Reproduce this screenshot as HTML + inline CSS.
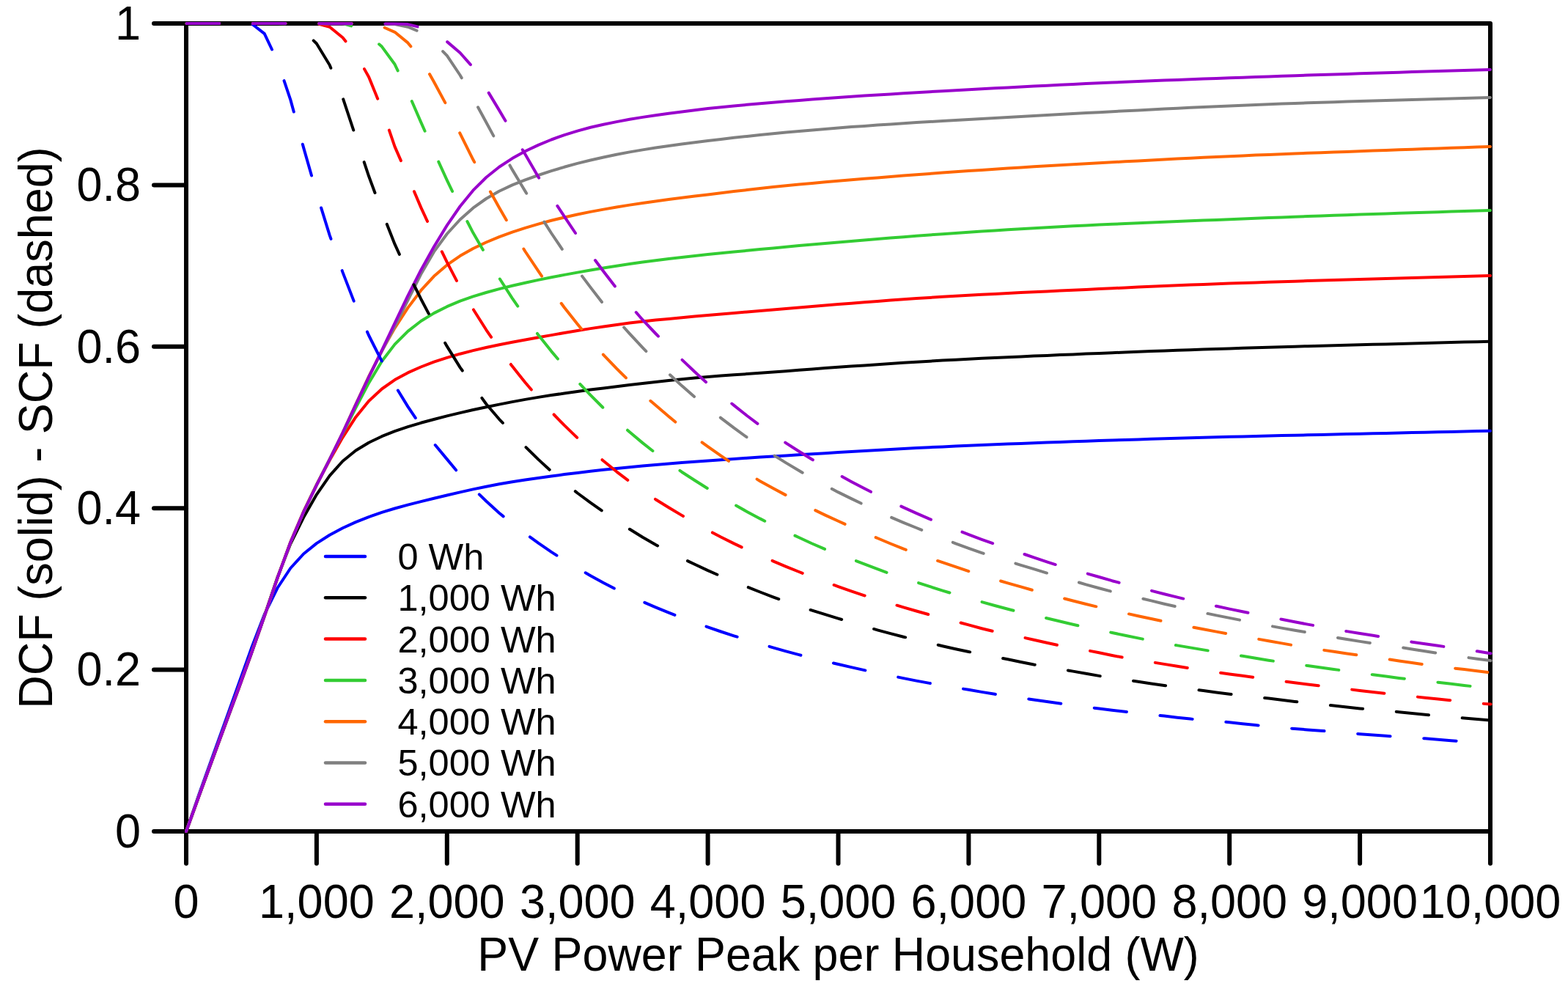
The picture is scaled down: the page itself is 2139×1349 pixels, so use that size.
<!DOCTYPE html><html><head><meta charset="utf-8"><style>html,body{margin:0;padding:0;background:#fff;}svg{display:block;}</style></head><body>
<svg width="2139" height="1349" viewBox="0 0 2139 1349">
<rect width="2139" height="1349" fill="#fff"/>
<g stroke="#000" stroke-width="6" fill="none" stroke-linecap="round" stroke-linejoin="round">
<path d="M210 32 L2033 32 L2033 1177.7"/>
<path d="M254 32 L254 1177.7"/>
<path d="M210 1134 L2033 1134"/>
<path d="M210 913.6 L254 913.6"/>
<path d="M210 693.2 L254 693.2"/>
<path d="M210 472.8 L254 472.8"/>
<path d="M210 252.4 L254 252.4"/>
<path d="M431.9 1134 L431.9 1177.7"/>
<path d="M609.8 1134 L609.8 1177.7"/>
<path d="M787.7 1134 L787.7 1177.7"/>
<path d="M965.6 1134 L965.6 1177.7"/>
<path d="M1143.5 1134 L1143.5 1177.7"/>
<path d="M1321.4 1134 L1321.4 1177.7"/>
<path d="M1499.3 1134 L1499.3 1177.7"/>
<path d="M1677.2 1134 L1677.2 1177.7"/>
<path d="M1855.1 1134 L1855.1 1177.7"/>
</g>
<g fill="none" stroke-width="4" stroke-linecap="round" stroke-linejoin="round">
<path stroke="#0000ff" d="M254.0 1134.0 L271.8 1082.4 L289.6 1032.9 L307.4 983.7 L325.2 933.8 L342.9 884.3 L360.7 838.2 L378.5 802.0 L396.3 775.0 L414.1 755.5 L431.9 741.1 L449.7 729.7 L467.5 720.2 L485.3 712.1 L503.1 705.1 L520.9 698.9 L538.6 693.5 L556.4 688.6 L574.2 684.1 L592.0 679.7 L609.8 675.5 L627.6 671.4 L645.4 667.4 L663.2 663.7 L681.0 660.3 L698.8 657.3 L716.5 654.5 L734.3 651.9 L752.1 649.5 L769.9 647.1 L787.7 644.9 L805.5 642.8 L823.3 640.8 L841.1 639.0 L858.9 637.2 L876.6 635.6 L894.4 634.0 L912.2 632.5 L930.0 631.1 L947.8 629.7 L965.6 628.4 L983.4 627.2 L1001.2 626.0 L1019.0 624.8 L1036.8 623.6 L1054.6 622.5 L1072.3 621.4 L1090.1 620.3 L1107.9 619.2 L1125.7 618.2 L1143.5 617.1 L1161.3 616.0 L1179.1 615.0 L1196.9 614.0 L1214.7 613.0 L1232.5 612.0 L1250.2 611.1 L1268.0 610.2 L1285.8 609.4 L1303.6 608.6 L1321.4 607.8 L1339.2 607.0 L1357.0 606.3 L1374.8 605.6 L1392.6 604.9 L1410.3 604.3 L1428.1 603.6 L1445.9 603.0 L1463.7 602.3 L1481.5 601.7 L1499.3 601.1 L1517.1 600.5 L1534.9 599.9 L1552.7 599.4 L1570.5 598.8 L1588.2 598.3 L1606.0 597.8 L1623.8 597.3 L1641.6 596.8 L1659.4 596.3 L1677.2 595.8 L1695.0 595.4 L1712.8 594.9 L1730.6 594.5 L1748.4 594.1 L1766.2 593.7 L1783.9 593.3 L1801.7 592.9 L1819.5 592.5 L1837.3 592.1 L1855.1 591.7 L1872.9 591.3 L1890.7 590.9 L1908.5 590.5 L1926.3 590.1 L1944.0 589.7 L1961.8 589.3 L1979.6 588.9 L1997.4 588.5 L2015.2 588.1 L2033.0 587.7"/>
<path stroke="#000000" d="M254.0 1134.0 L271.8 1084.8 L289.6 1036.3 L307.4 988.0 L325.2 940.1 L342.9 891.4 L360.7 840.2 L378.5 787.4 L396.3 741.8 L414.1 705.8 L431.9 674.6 L449.7 648.8 L467.5 629.0 L485.3 614.5 L503.1 603.7 L520.9 595.2 L538.6 588.2 L556.4 582.2 L574.2 576.8 L592.0 572.0 L609.8 567.4 L627.6 563.1 L645.4 559.0 L663.2 555.2 L681.0 551.6 L698.8 548.1 L716.5 544.9 L734.3 541.9 L752.1 539.1 L769.9 536.5 L787.7 534.0 L805.5 531.6 L823.3 529.4 L841.1 527.2 L858.9 525.1 L876.6 523.0 L894.4 521.0 L912.2 519.0 L930.0 517.2 L947.8 515.5 L965.6 514.0 L983.4 512.6 L1001.2 511.3 L1019.0 510.1 L1036.8 508.8 L1054.6 507.5 L1072.3 506.2 L1090.1 504.8 L1107.9 503.5 L1125.7 502.1 L1143.5 500.8 L1161.3 499.6 L1179.1 498.4 L1196.9 497.2 L1214.7 496.0 L1232.5 494.8 L1250.2 493.7 L1268.0 492.7 L1285.8 491.6 L1303.6 490.7 L1321.4 489.7 L1339.2 488.8 L1357.0 488.0 L1374.8 487.2 L1392.6 486.4 L1410.3 485.6 L1428.1 484.9 L1445.9 484.1 L1463.7 483.4 L1481.5 482.6 L1499.3 481.9 L1517.1 481.2 L1534.9 480.5 L1552.7 479.8 L1570.5 479.1 L1588.2 478.5 L1606.0 477.8 L1623.8 477.2 L1641.6 476.6 L1659.4 476.0 L1677.2 475.4 L1695.0 474.8 L1712.8 474.3 L1730.6 473.8 L1748.4 473.2 L1766.2 472.7 L1783.9 472.2 L1801.7 471.7 L1819.5 471.2 L1837.3 470.8 L1855.1 470.3 L1872.9 469.8 L1890.7 469.4 L1908.5 468.9 L1926.3 468.4 L1944.0 468.0 L1961.8 467.5 L1979.6 467.1 L1997.4 466.6 L2015.2 466.2 L2033.0 465.7"/>
<path stroke="#ff0000" d="M254.0 1134.0 L271.8 1084.8 L289.6 1036.3 L307.4 988.0 L325.2 940.0 L342.9 891.4 L360.7 840.7 L378.5 788.3 L396.3 739.4 L414.1 697.7 L431.9 661.0 L449.7 627.8 L467.5 596.6 L485.3 568.9 L503.1 547.0 L520.9 530.5 L538.6 518.1 L556.4 508.4 L574.2 500.5 L592.0 493.7 L609.8 487.9 L627.6 482.7 L645.4 478.1 L663.2 474.0 L681.0 470.2 L698.8 466.7 L716.5 463.5 L734.3 460.3 L752.1 457.1 L769.9 454.0 L787.7 451.0 L805.5 448.1 L823.3 445.4 L841.1 442.9 L858.9 440.6 L876.6 438.6 L894.4 436.6 L912.2 434.9 L930.0 433.2 L947.8 431.6 L965.6 430.0 L983.4 428.4 L1001.2 426.9 L1019.0 425.4 L1036.8 424.0 L1054.6 422.5 L1072.3 421.1 L1090.1 419.6 L1107.9 418.1 L1125.7 416.6 L1143.5 415.1 L1161.3 413.7 L1179.1 412.3 L1196.9 410.9 L1214.7 409.6 L1232.5 408.3 L1250.2 407.1 L1268.0 405.9 L1285.8 404.8 L1303.6 403.8 L1321.4 402.8 L1339.2 401.8 L1357.0 400.9 L1374.8 400.0 L1392.6 399.1 L1410.3 398.3 L1428.1 397.4 L1445.9 396.6 L1463.7 395.7 L1481.5 394.9 L1499.3 394.0 L1517.1 393.2 L1534.9 392.4 L1552.7 391.6 L1570.5 390.8 L1588.2 390.0 L1606.0 389.3 L1623.8 388.6 L1641.6 387.9 L1659.4 387.2 L1677.2 386.6 L1695.0 385.9 L1712.8 385.4 L1730.6 384.8 L1748.4 384.2 L1766.2 383.7 L1783.9 383.1 L1801.7 382.6 L1819.5 382.1 L1837.3 381.6 L1855.1 381.0 L1872.9 380.5 L1890.7 380.0 L1908.5 379.5 L1926.3 379.0 L1944.0 378.5 L1961.8 378.0 L1979.6 377.4 L1997.4 376.9 L2015.2 376.4 L2033.0 375.9"/>
<path stroke="#33cc33" d="M254.0 1134.0 L271.8 1084.8 L289.6 1036.3 L307.4 988.0 L325.2 940.0 L342.9 891.4 L360.7 840.6 L378.5 788.4 L396.3 739.7 L414.1 698.2 L431.9 661.2 L449.7 626.5 L467.5 591.6 L485.3 556.4 L503.1 522.4 L520.9 492.8 L538.6 469.6 L556.4 451.8 L574.2 438.0 L592.0 427.1 L609.8 418.2 L627.6 410.7 L645.4 404.4 L663.2 399.0 L681.0 394.1 L698.8 389.7 L716.5 385.7 L734.3 381.9 L752.1 378.3 L769.9 374.9 L787.7 371.6 L805.5 368.5 L823.3 365.5 L841.1 362.7 L858.9 360.1 L876.6 357.6 L894.4 355.3 L912.2 353.1 L930.0 351.0 L947.8 349.0 L965.6 347.1 L983.4 345.3 L1001.2 343.5 L1019.0 341.8 L1036.8 340.1 L1054.6 338.4 L1072.3 336.7 L1090.1 335.1 L1107.9 333.5 L1125.7 332.0 L1143.5 330.4 L1161.3 328.9 L1179.1 327.4 L1196.9 326.0 L1214.7 324.6 L1232.5 323.2 L1250.2 321.8 L1268.0 320.5 L1285.8 319.2 L1303.6 317.9 L1321.4 316.7 L1339.2 315.5 L1357.0 314.4 L1374.8 313.3 L1392.6 312.2 L1410.3 311.2 L1428.1 310.2 L1445.9 309.2 L1463.7 308.3 L1481.5 307.4 L1499.3 306.6 L1517.1 305.8 L1534.9 305.0 L1552.7 304.2 L1570.5 303.5 L1588.2 302.8 L1606.0 302.0 L1623.8 301.3 L1641.6 300.6 L1659.4 299.9 L1677.2 299.2 L1695.0 298.5 L1712.8 297.8 L1730.6 297.1 L1748.4 296.5 L1766.2 295.8 L1783.9 295.1 L1801.7 294.5 L1819.5 293.8 L1837.3 293.2 L1855.1 292.6 L1872.9 292.0 L1890.7 291.4 L1908.5 290.8 L1926.3 290.3 L1944.0 289.7 L1961.8 289.2 L1979.6 288.6 L1997.4 288.1 L2015.2 287.5 L2033.0 287.0"/>
<path stroke="#ff6600" d="M254.0 1134.0 L271.8 1084.8 L289.6 1036.3 L307.4 988.0 L325.2 940.0 L342.9 891.4 L360.7 840.6 L378.5 788.3 L396.3 739.8 L414.1 698.5 L431.9 661.7 L449.7 626.7 L467.5 590.3 L485.3 551.5 L503.1 513.5 L520.9 478.5 L538.6 447.3 L556.4 419.9 L574.2 396.2 L592.0 376.8 L609.8 361.4 L627.6 349.1 L645.4 339.0 L663.2 330.5 L681.0 323.1 L698.8 316.6 L716.5 310.8 L734.3 305.6 L752.1 300.8 L769.9 296.5 L787.7 292.5 L805.5 288.9 L823.3 285.6 L841.1 282.5 L858.9 279.6 L876.6 276.9 L894.4 274.4 L912.2 272.0 L930.0 269.7 L947.8 267.5 L965.6 265.4 L983.4 263.2 L1001.2 261.1 L1019.0 259.1 L1036.8 257.1 L1054.6 255.1 L1072.3 253.3 L1090.1 251.6 L1107.9 249.9 L1125.7 248.3 L1143.5 246.8 L1161.3 245.3 L1179.1 243.8 L1196.9 242.4 L1214.7 241.0 L1232.5 239.6 L1250.2 238.2 L1268.0 236.9 L1285.8 235.6 L1303.6 234.3 L1321.4 233.1 L1339.2 231.9 L1357.0 230.7 L1374.8 229.5 L1392.6 228.4 L1410.3 227.3 L1428.1 226.3 L1445.9 225.2 L1463.7 224.2 L1481.5 223.2 L1499.3 222.2 L1517.1 221.3 L1534.9 220.3 L1552.7 219.4 L1570.5 218.4 L1588.2 217.5 L1606.0 216.6 L1623.8 215.7 L1641.6 214.8 L1659.4 214.0 L1677.2 213.2 L1695.0 212.4 L1712.8 211.6 L1730.6 210.9 L1748.4 210.2 L1766.2 209.5 L1783.9 208.8 L1801.7 208.2 L1819.5 207.5 L1837.3 206.9 L1855.1 206.2 L1872.9 205.6 L1890.7 205.0 L1908.5 204.3 L1926.3 203.7 L1944.0 203.1 L1961.8 202.4 L1979.6 201.8 L1997.4 201.2 L2015.2 200.5 L2033.0 199.9"/>
<path stroke="#808080" d="M254.0 1134.0 L271.8 1084.8 L289.6 1036.3 L307.4 988.0 L325.2 940.0 L342.9 891.4 L360.7 840.6 L378.5 788.3 L396.3 739.8 L414.1 698.5 L431.9 661.6 L449.7 626.6 L467.5 590.3 L485.3 551.8 L503.1 514.2 L520.9 479.0 L538.6 445.0 L556.4 409.6 L574.2 374.1 L592.0 343.4 L609.8 319.0 L627.6 299.5 L645.4 283.7 L663.2 271.0 L681.0 260.8 L698.8 252.4 L716.5 245.3 L734.3 239.0 L752.1 233.2 L769.9 227.8 L787.7 222.9 L805.5 218.5 L823.3 214.5 L841.1 210.8 L858.9 207.4 L876.6 204.4 L894.4 201.5 L912.2 198.9 L930.0 196.4 L947.8 194.2 L965.6 192.0 L983.4 189.9 L1001.2 187.8 L1019.0 185.9 L1036.8 184.0 L1054.6 182.2 L1072.3 180.5 L1090.1 178.9 L1107.9 177.4 L1125.7 175.9 L1143.5 174.5 L1161.3 173.1 L1179.1 171.9 L1196.9 170.6 L1214.7 169.4 L1232.5 168.3 L1250.2 167.1 L1268.0 166.1 L1285.8 165.0 L1303.6 164.0 L1321.4 162.9 L1339.2 161.9 L1357.0 160.9 L1374.8 160.0 L1392.6 159.0 L1410.3 158.0 L1428.1 157.0 L1445.9 156.0 L1463.7 155.1 L1481.5 154.1 L1499.3 153.2 L1517.1 152.2 L1534.9 151.3 L1552.7 150.4 L1570.5 149.5 L1588.2 148.6 L1606.0 147.7 L1623.8 146.8 L1641.6 146.0 L1659.4 145.2 L1677.2 144.4 L1695.0 143.7 L1712.8 143.0 L1730.6 142.3 L1748.4 141.6 L1766.2 141.0 L1783.9 140.3 L1801.7 139.7 L1819.5 139.2 L1837.3 138.6 L1855.1 138.0 L1872.9 137.5 L1890.7 136.9 L1908.5 136.4 L1926.3 135.9 L1944.0 135.4 L1961.8 134.9 L1979.6 134.4 L1997.4 133.9 L2015.2 133.4 L2033.0 132.9"/>
<path stroke="#9900cc" d="M254.0 1134.0 L271.8 1084.8 L289.6 1036.3 L307.4 988.0 L325.2 940.0 L342.9 891.4 L360.7 840.6 L378.5 788.3 L396.3 739.8 L414.1 698.4 L431.9 661.6 L449.7 626.6 L467.5 590.4 L485.3 552.1 L503.1 514.4 L520.9 477.8 L538.6 440.7 L556.4 403.4 L574.2 368.4 L592.0 336.6 L609.8 307.4 L627.6 281.5 L645.4 259.7 L663.2 242.0 L681.0 227.7 L698.8 216.1 L716.5 206.3 L734.3 197.9 L752.1 190.5 L769.9 184.1 L787.7 178.6 L805.5 173.8 L823.3 169.7 L841.1 166.1 L858.9 162.8 L876.6 159.9 L894.4 157.2 L912.2 154.7 L930.0 152.4 L947.8 150.2 L965.6 148.1 L983.4 146.2 L1001.2 144.5 L1019.0 142.8 L1036.8 141.2 L1054.6 139.7 L1072.3 138.3 L1090.1 136.9 L1107.9 135.5 L1125.7 134.2 L1143.5 133.0 L1161.3 131.8 L1179.1 130.6 L1196.9 129.5 L1214.7 128.4 L1232.5 127.3 L1250.2 126.2 L1268.0 125.2 L1285.8 124.2 L1303.6 123.2 L1321.4 122.2 L1339.2 121.2 L1357.0 120.3 L1374.8 119.4 L1392.6 118.4 L1410.3 117.6 L1428.1 116.7 L1445.9 115.8 L1463.7 115.0 L1481.5 114.1 L1499.3 113.3 L1517.1 112.5 L1534.9 111.8 L1552.7 111.0 L1570.5 110.3 L1588.2 109.6 L1606.0 108.9 L1623.8 108.3 L1641.6 107.6 L1659.4 107.0 L1677.2 106.3 L1695.0 105.7 L1712.8 105.1 L1730.6 104.4 L1748.4 103.8 L1766.2 103.2 L1783.9 102.6 L1801.7 102.0 L1819.5 101.5 L1837.3 100.9 L1855.1 100.3 L1872.9 99.8 L1890.7 99.2 L1908.5 98.7 L1926.3 98.1 L1944.0 97.6 L1961.8 97.1 L1979.6 96.6 L1997.4 96.0 L2015.2 95.5 L2033.0 95.0"/>
</g>
<g fill="none" stroke-width="4" stroke-linecap="round" stroke-linejoin="round" stroke-dasharray="44.5 45.8" stroke-dashoffset="-0.6">
<path stroke="#0000ff" d="M254.0 32.0 L271.8 32.0 L289.6 32.0 L307.4 32.0 L325.2 32.0 L342.9 32.0 L360.7 45.9 L378.5 83.3 L396.3 136.1 L414.1 201.4 L431.9 263.6 L449.7 320.8 L467.5 371.4 L485.3 417.4 L503.1 457.5 L520.9 492.8 L538.6 525.6 L556.4 554.6 L574.2 580.9 L592.0 605.0 L609.8 626.4 L627.6 647.9 L645.4 666.2 L663.2 683.5 L681.0 699.7 L698.8 714.3 L716.5 727.7 L734.3 740.6 L752.1 752.9 L769.9 764.3 L787.7 775.0 L805.5 785.2 L823.3 795.0 L841.1 804.2 L858.9 812.7 L876.6 820.6 L894.4 828.3 L912.2 835.6 L930.0 842.5 L947.8 849.1 L965.6 855.4 L983.4 861.5 L1001.2 867.3 L1019.0 872.9 L1036.8 878.2 L1054.6 883.3 L1072.3 888.3 L1090.1 893.1 L1107.9 897.6 L1125.7 901.9 L1143.5 906.0 L1161.3 910.1 L1179.1 914.1 L1196.9 917.9 L1214.7 921.5 L1232.5 925.1 L1250.2 928.6 L1268.0 931.9 L1285.8 934.9 L1303.6 937.9 L1321.4 940.8 L1339.2 943.9 L1357.0 946.8 L1374.8 949.5 L1392.6 951.9 L1410.3 954.4 L1428.1 957.0 L1445.9 959.6 L1463.7 962.0 L1481.5 964.3 L1499.3 966.5 L1517.1 968.7 L1534.9 970.8 L1552.7 972.8 L1570.5 974.7 L1588.2 976.6 L1606.0 978.7 L1623.8 980.6 L1641.6 982.3 L1659.4 983.7 L1677.2 985.3 L1695.0 987.2 L1712.8 989.1 L1730.6 990.9 L1748.4 992.5 L1766.2 994.0 L1783.9 995.4 L1801.7 996.7 L1819.5 998.2 L1837.3 999.7 L1855.1 1001.2 L1872.9 1002.6 L1890.7 1003.8 L1908.5 1005.0 L1926.3 1006.1 L1944.0 1007.3 L1961.8 1008.7 L1979.6 1010.2 L1997.4 1011.5 L2015.2 1012.8 L2029.0 1013.7"/>
<path stroke="#000000" d="M254.0 32.0 L271.8 32.0 L289.6 32.0 L307.4 32.0 L325.2 32.0 L342.9 32.0 L360.7 32.0 L378.5 32.0 L396.3 33.4 L414.1 41.9 L431.9 59.5 L449.7 88.7 L467.5 133.1 L485.3 186.7 L503.1 240.3 L520.9 288.4 L538.6 333.2 L556.4 372.0 L574.2 407.7 L592.0 441.4 L609.8 472.4 L627.6 501.1 L645.4 526.0 L663.2 551.0 L681.0 571.8 L698.8 590.4 L716.5 609.1 L734.3 626.6 L752.1 643.0 L769.9 658.3 L787.7 672.5 L805.5 685.6 L823.3 698.1 L841.1 710.3 L858.9 721.8 L876.6 732.7 L894.4 743.0 L912.2 752.4 L930.0 761.3 L947.8 769.8 L965.6 778.1 L983.4 785.9 L1001.2 793.3 L1019.0 800.5 L1036.8 807.5 L1054.6 814.3 L1072.3 820.7 L1090.1 826.9 L1107.9 832.7 L1125.7 838.2 L1143.5 843.6 L1161.3 849.0 L1179.1 854.2 L1196.9 859.3 L1214.7 864.1 L1232.5 868.7 L1250.2 873.0 L1268.0 877.1 L1285.8 881.2 L1303.6 885.2 L1321.4 889.0 L1339.2 892.5 L1357.0 895.8 L1374.8 899.3 L1392.6 903.0 L1410.3 906.5 L1428.1 909.6 L1445.9 912.5 L1463.7 915.6 L1481.5 918.8 L1499.3 921.9 L1517.1 924.6 L1534.9 927.2 L1552.7 929.8 L1570.5 932.5 L1588.2 935.0 L1606.0 937.4 L1623.8 939.7 L1641.6 942.0 L1659.4 944.4 L1677.2 946.7 L1695.0 948.7 L1712.8 950.6 L1730.6 952.6 L1748.4 954.7 L1766.2 956.9 L1783.9 958.8 L1801.7 960.6 L1819.5 962.5 L1837.3 964.5 L1855.1 966.4 L1872.9 968.1 L1890.7 969.6 L1908.5 971.2 L1926.3 973.0 L1944.0 974.8 L1961.8 976.5 L1979.6 978.1 L1997.4 979.6 L2015.2 981.1 L2033.0 982.5"/>
<path stroke="#ff0000" d="M254.0 32.0 L271.8 32.0 L289.6 32.0 L307.4 32.0 L325.2 32.0 L342.9 32.0 L360.7 32.0 L378.5 32.0 L396.3 32.0 L414.1 32.0 L431.9 32.0 L449.7 36.7 L467.5 51.3 L485.3 73.4 L503.1 104.9 L520.9 148.6 L538.6 200.1 L556.4 240.9 L574.2 282.9 L592.0 321.2 L609.8 357.6 L627.6 391.9 L645.4 421.6 L663.2 449.8 L681.0 475.7 L698.8 499.6 L716.5 521.8 L734.3 542.6 L752.1 561.9 L769.9 580.1 L787.7 597.3 L805.5 613.5 L823.3 628.8 L841.1 643.3 L858.9 656.8 L876.6 669.4 L894.4 681.2 L912.2 692.3 L930.0 702.9 L947.8 713.2 L965.6 723.1 L983.4 732.5 L1001.2 741.4 L1019.0 749.8 L1036.8 757.7 L1054.6 765.3 L1072.3 772.8 L1090.1 780.0 L1107.9 787.0 L1125.7 793.6 L1143.5 800.1 L1161.3 806.3 L1179.1 812.3 L1196.9 817.8 L1214.7 823.1 L1232.5 828.3 L1250.2 833.5 L1268.0 838.5 L1285.8 843.2 L1303.6 847.7 L1321.4 852.4 L1339.2 857.2 L1357.0 861.6 L1374.8 865.2 L1392.6 868.8 L1410.3 872.7 L1428.1 876.8 L1445.9 880.6 L1463.7 883.7 L1481.5 886.8 L1499.3 890.2 L1517.1 894.0 L1534.9 897.4 L1552.7 900.3 L1570.5 903.0 L1588.2 905.9 L1606.0 908.8 L1623.8 911.6 L1641.6 914.3 L1659.4 916.9 L1677.2 919.4 L1695.0 921.8 L1712.8 924.2 L1730.6 926.6 L1748.4 928.9 L1766.2 931.2 L1783.9 933.5 L1801.7 935.7 L1819.5 937.8 L1837.3 939.8 L1855.1 941.9 L1872.9 944.0 L1890.7 946.1 L1908.5 948.0 L1926.3 949.8 L1944.0 951.7 L1961.8 953.5 L1979.6 955.3 L1997.4 957.4 L2015.2 959.3 L2033.0 960.5 L2033.6 960.5"/>
<path stroke="#33cc33" d="M254.0 32.0 L271.8 32.0 L289.6 32.0 L307.4 32.0 L325.2 32.0 L342.9 32.0 L360.7 32.0 L378.5 32.0 L396.3 32.0 L414.1 32.0 L431.9 32.0 L449.7 32.0 L467.5 32.0 L485.3 37.2 L503.1 48.1 L520.9 63.6 L538.6 87.8 L556.4 125.6 L574.2 166.6 L592.0 206.9 L609.8 245.8 L627.6 283.0 L645.4 317.6 L663.2 348.2 L681.0 379.2 L698.8 406.8 L716.5 432.6 L734.3 456.8 L752.1 479.1 L769.9 500.2 L787.7 520.1 L805.5 538.9 L823.3 556.7 L841.1 573.5 L858.9 589.3 L876.6 604.1 L894.4 618.1 L912.2 631.3 L930.0 643.7 L947.8 655.3 L965.6 666.5 L983.4 677.5 L1001.2 688.0 L1019.0 697.9 L1036.8 707.4 L1054.6 716.4 L1072.3 725.0 L1090.1 733.3 L1107.9 741.5 L1125.7 749.2 L1143.5 756.0 L1161.3 762.5 L1179.1 769.3 L1196.9 776.2 L1214.7 782.7 L1232.5 788.5 L1250.2 794.1 L1268.0 799.9 L1285.8 805.6 L1303.6 811.0 L1321.4 816.1 L1339.2 821.0 L1357.0 826.0 L1374.8 830.8 L1392.6 835.2 L1410.3 839.2 L1428.1 843.3 L1445.9 847.5 L1463.7 851.8 L1481.5 855.7 L1499.3 859.4 L1517.1 863.0 L1534.9 866.8 L1552.7 870.4 L1570.5 873.9 L1588.2 877.2 L1606.0 880.4 L1623.8 883.4 L1641.6 886.4 L1659.4 889.2 L1677.2 892.0 L1695.0 894.8 L1712.8 897.8 L1730.6 900.7 L1748.4 903.3 L1766.2 905.7 L1783.9 908.1 L1801.7 910.5 L1819.5 912.9 L1837.3 915.4 L1855.1 917.9 L1872.9 920.3 L1890.7 922.6 L1908.5 924.9 L1926.3 927.0 L1944.0 928.8 L1961.8 930.7 L1979.6 932.8 L1997.4 934.9 L2015.2 937.0 L2033.0 939.0"/>
<path stroke="#ff6600" d="M254.0 32.0 L271.8 32.0 L289.6 32.0 L307.4 32.0 L325.2 32.0 L342.9 32.0 L360.7 32.0 L378.5 32.0 L396.3 32.0 L414.1 32.0 L431.9 32.0 L449.7 32.0 L467.5 32.0 L485.3 32.0 L503.1 32.0 L520.9 36.1 L538.6 43.8 L556.4 58.4 L574.2 80.5 L592.0 111.7 L609.8 144.8 L627.6 182.2 L645.4 217.8 L663.2 251.2 L681.0 283.3 L698.8 314.0 L716.5 343.0 L734.3 369.7 L752.1 395.3 L769.9 419.5 L787.7 441.9 L805.5 463.5 L823.3 484.1 L841.1 502.7 L858.9 520.3 L876.6 537.6 L894.4 552.8 L912.2 568.0 L930.0 582.8 L947.8 596.3 L965.6 609.2 L983.4 621.7 L1001.2 633.7 L1019.0 645.4 L1036.8 656.2 L1054.6 666.1 L1072.3 675.5 L1090.1 684.9 L1107.9 694.0 L1125.7 702.6 L1143.5 710.8 L1161.3 718.8 L1179.1 726.5 L1196.9 734.0 L1214.7 741.5 L1232.5 748.7 L1250.2 755.2 L1268.0 761.2 L1285.8 767.2 L1303.6 773.2 L1321.4 779.1 L1339.2 784.7 L1357.0 790.1 L1374.8 795.4 L1392.6 800.4 L1410.3 805.4 L1428.1 810.1 L1445.9 814.8 L1463.7 819.5 L1481.5 824.0 L1499.3 828.3 L1517.1 832.4 L1534.9 836.3 L1552.7 840.2 L1570.5 844.0 L1588.2 847.8 L1606.0 851.4 L1623.8 854.9 L1641.6 858.3 L1659.4 861.6 L1677.2 864.9 L1695.0 868.0 L1712.8 871.1 L1730.6 874.2 L1748.4 877.4 L1766.2 880.5 L1783.9 883.4 L1801.7 886.2 L1819.5 888.8 L1837.3 891.4 L1855.1 893.9 L1872.9 896.3 L1890.7 898.8 L1908.5 901.4 L1926.3 904.0 L1944.0 906.5 L1961.8 908.8 L1979.6 911.0 L1997.4 913.1 L2015.2 915.3 L2030.8 917.1"/>
<path stroke="#808080" d="M254.0 32.0 L271.8 32.0 L289.6 32.0 L307.4 32.0 L325.2 32.0 L342.9 32.1 L360.7 32.1 L378.5 32.1 L396.3 32.2 L414.1 32.2 L431.9 32.3 L449.7 32.4 L467.5 32.5 L485.3 32.6 L503.1 32.7 L520.9 32.8 L538.6 33.0 L556.4 36.7 L574.2 44.1 L592.0 57.4 L609.8 75.9 L627.6 102.5 L645.4 134.0 L663.2 166.8 L681.0 199.6 L698.8 231.4 L716.5 260.9 L734.3 290.0 L752.1 318.0 L769.9 344.3 L787.7 368.1 L805.5 391.9 L823.3 414.9 L841.1 435.4 L858.9 455.1 L876.6 474.2 L894.4 492.3 L912.2 509.6 L930.0 526.1 L947.8 541.7 L965.6 556.3 L983.4 570.1 L1001.2 583.7 L1019.0 596.6 L1036.8 608.7 L1054.6 620.3 L1072.3 631.4 L1090.1 642.0 L1107.9 652.3 L1125.7 662.1 L1143.5 671.4 L1161.3 680.1 L1179.1 688.7 L1196.9 697.2 L1214.7 705.3 L1232.5 712.8 L1250.2 720.0 L1268.0 727.2 L1285.8 734.4 L1303.6 741.3 L1321.4 747.9 L1339.2 754.1 L1357.0 759.9 L1374.8 765.4 L1392.6 770.8 L1410.3 776.2 L1428.1 781.6 L1445.9 786.9 L1463.7 792.1 L1481.5 797.3 L1499.3 802.3 L1517.1 807.0 L1534.9 811.2 L1552.7 815.2 L1570.5 819.4 L1588.2 823.7 L1606.0 827.8 L1623.8 831.8 L1641.6 835.7 L1659.4 839.4 L1677.2 842.9 L1695.0 846.4 L1712.8 849.9 L1730.6 853.4 L1748.4 856.6 L1766.2 859.7 L1783.9 862.8 L1801.7 865.9 L1819.5 869.0 L1837.3 872.0 L1855.1 874.9 L1872.9 877.6 L1890.7 880.2 L1908.5 882.7 L1926.3 885.4 L1944.0 888.3 L1961.8 891.0 L1979.6 893.7 L1997.4 896.3 L2015.2 898.7 L2033.0 901.1 L2033.6 901.2"/>
<path stroke="#9900cc" d="M254.0 32.0 L271.8 32.0 L289.6 32.0 L307.4 32.0 L325.2 32.0 L342.9 32.0 L360.7 32.0 L378.5 32.0 L396.3 32.1 L414.1 32.1 L431.9 32.1 L449.7 32.2 L467.5 32.2 L485.3 32.3 L503.1 32.3 L520.9 32.4 L538.6 32.4 L556.4 33.1 L574.2 37.6 L592.0 45.6 L609.8 56.8 L627.6 72.0 L645.4 92.2 L663.2 120.8 L681.0 150.4 L698.8 180.7 L716.5 210.6 L734.3 241.3 L752.1 268.5 L769.9 295.4 L787.7 322.0 L805.5 346.4 L823.3 370.2 L841.1 393.3 L858.9 415.8 L876.6 436.2 L894.4 455.0 L912.2 473.0 L930.0 490.3 L947.8 507.3 L965.6 523.4 L983.4 538.5 L1001.2 552.9 L1019.0 567.0 L1036.8 580.3 L1054.6 592.6 L1072.3 604.4 L1090.1 615.8 L1107.9 626.7 L1125.7 637.2 L1143.5 647.2 L1161.3 656.9 L1179.1 666.3 L1196.9 675.3 L1214.7 683.8 L1232.5 692.1 L1250.2 700.1 L1268.0 707.9 L1285.8 715.2 L1303.6 722.2 L1321.4 729.1 L1339.2 735.8 L1357.0 742.2 L1374.8 748.4 L1392.6 754.3 L1410.3 760.4 L1428.1 766.4 L1445.9 772.0 L1463.7 777.1 L1481.5 781.9 L1499.3 787.0 L1517.1 792.2 L1534.9 796.9 L1552.7 801.3 L1570.5 805.7 L1588.2 810.2 L1606.0 814.6 L1623.8 818.9 L1641.6 822.9 L1659.4 826.8 L1677.2 830.6 L1695.0 834.3 L1712.8 837.9 L1730.6 841.4 L1748.4 844.8 L1766.2 848.2 L1783.9 851.6 L1801.7 854.8 L1819.5 858.0 L1837.3 861.1 L1855.1 864.0 L1872.9 866.8 L1890.7 869.7 L1908.5 872.8 L1926.3 875.7 L1944.0 878.3 L1961.8 880.8 L1979.6 883.3 L1997.4 885.7 L2015.2 888.3 L2033.0 891.2 L2033.6 891.3"/>
</g>
<g font-family="Liberation Sans, Arial, sans-serif" font-size="50" fill="#000">
<path d="M444 759.0 L498 759.0" stroke="#0000ff" stroke-width="4.5" stroke-linecap="round"/>
<text transform="translate(542.5 776.9) scale(1.01 1.0)">0 Wh</text>
<path d="M444 815.3 L498 815.3" stroke="#000000" stroke-width="4.5" stroke-linecap="round"/>
<text transform="translate(542.5 833.2) scale(1.01 1.0)">1,000 Wh</text>
<path d="M444 871.6 L498 871.6" stroke="#ff0000" stroke-width="4.5" stroke-linecap="round"/>
<text transform="translate(542.5 889.5) scale(1.01 1.0)">2,000 Wh</text>
<path d="M444 927.9 L498 927.9" stroke="#33cc33" stroke-width="4.5" stroke-linecap="round"/>
<text transform="translate(542.5 945.8) scale(1.01 1.0)">3,000 Wh</text>
<path d="M444 984.2 L498 984.2" stroke="#ff6600" stroke-width="4.5" stroke-linecap="round"/>
<text transform="translate(542.5 1002.1) scale(1.01 1.0)">4,000 Wh</text>
<path d="M444 1040.5 L498 1040.5" stroke="#808080" stroke-width="4.5" stroke-linecap="round"/>
<text transform="translate(542.5 1058.4) scale(1.01 1.0)">5,000 Wh</text>
<path d="M444 1096.8 L498 1096.8" stroke="#9900cc" stroke-width="4.5" stroke-linecap="round"/>
<text transform="translate(542.5 1114.7) scale(1.01 1.0)">6,000 Wh</text>
</g>
<g font-family="Liberation Sans, Arial, sans-serif" font-size="63" fill="#000">
<text transform="translate(192 1155.8) scale(1 1.042)" text-anchor="end">0</text>
<text transform="translate(192 935.4) scale(1 1.042)" text-anchor="end">0.2</text>
<text transform="translate(192 715.0) scale(1 1.042)" text-anchor="end">0.4</text>
<text transform="translate(192 494.6) scale(1 1.042)" text-anchor="end">0.6</text>
<text transform="translate(192 274.2) scale(1 1.042)" text-anchor="end">0.8</text>
<text transform="translate(192 53.8) scale(1 1.042)" text-anchor="end">1</text>
<text transform="translate(254.0 1251.5) scale(1 1.042)" text-anchor="middle">0</text>
<text transform="translate(431.9 1251.5) scale(1 1.042)" text-anchor="middle">1,000</text>
<text transform="translate(609.8 1251.5) scale(1 1.042)" text-anchor="middle">2,000</text>
<text transform="translate(787.7 1251.5) scale(1 1.042)" text-anchor="middle">3,000</text>
<text transform="translate(965.6 1251.5) scale(1 1.042)" text-anchor="middle">4,000</text>
<text transform="translate(1143.5 1251.5) scale(1 1.042)" text-anchor="middle">5,000</text>
<text transform="translate(1321.4 1251.5) scale(1 1.042)" text-anchor="middle">6,000</text>
<text transform="translate(1499.3 1251.5) scale(1 1.042)" text-anchor="middle">7,000</text>
<text transform="translate(1677.2 1251.5) scale(1 1.042)" text-anchor="middle">8,000</text>
<text transform="translate(1855.1 1251.5) scale(1 1.042)" text-anchor="middle">9,000</text>
<text transform="translate(2033.0 1251.5) scale(1 1.042)" text-anchor="middle">10,000</text>
<text transform="translate(1143.5 1324) scale(0.997 1.042)" text-anchor="middle">PV Power Peak per Household (W)</text>
<text transform="translate(71 583.5) rotate(-90) scale(1 1.042)" text-anchor="middle">DCF (solid) - SCF (dashed)</text>
</g>
</svg></body></html>
